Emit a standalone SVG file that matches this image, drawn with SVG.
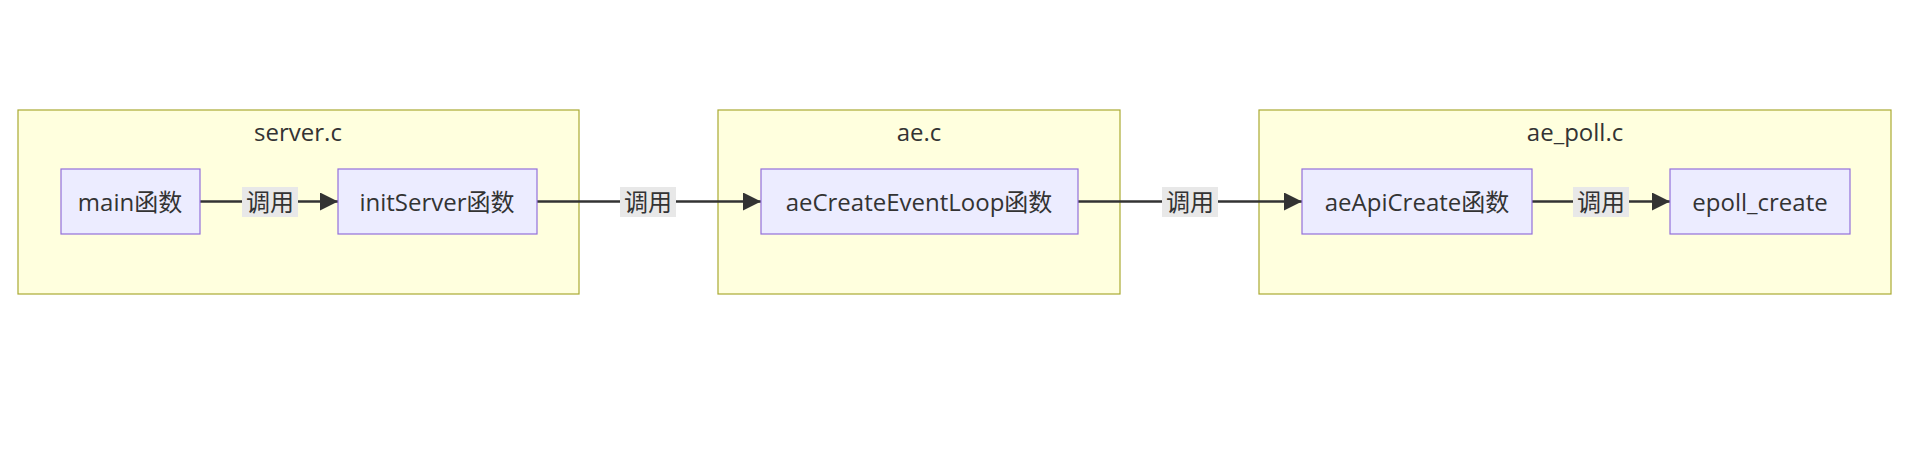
<svg xmlns="http://www.w3.org/2000/svg" width="1915" height="476" viewBox="0 0 1915 476">
<style>
.cl{fill:#ffffde;stroke:#aaaa33;stroke-width:1.2}
.nd{fill:#ececff;stroke:#9370db;stroke-width:1.2}
text{font-family:"Open Sans","Noto Sans CJK SC",sans-serif;font-size:24px;fill:#333;text-anchor:middle;dominant-baseline:central}
.e{stroke:#333;stroke-width:2.5;fill:none;marker-end:url(#a)}
.lb{fill:#e8e8e8}
</style>
<defs><marker id="a" viewBox="0 0 10 10" refX="10" refY="5" markerWidth="18" markerHeight="18" markerUnits="userSpaceOnUse" orient="auto"><path d="M0,0L10,5L0,10z" fill="#333"/></marker></defs>
<rect width="1915" height="476" fill="#fff"/>
<g id="server_c"><rect class="cl" x="18" y="110" width="561" height="184"/><text x="298" y="131">server.c</text></g>
<g id="ae_c"><rect class="cl" x="718" y="110" width="402" height="184"/><text x="919" y="131">ae.c</text></g>
<g id="ae_poll_c"><rect class="cl" x="1259" y="110" width="632" height="184"/><text x="1575" y="131">ae_poll.c</text></g>
<g id="edges">
<path class="e" d="M200,201.5H338"/><path class="e" d="M537,201.5H761"/><path class="e" d="M1078,201.5H1302"/><path class="e" d="M1532,201.5H1670"/>
<rect class="lb" x="242" y="187" width="56" height="30"/><text x="270" y="201">调用</text>
<rect class="lb" x="620" y="187" width="56" height="30"/><text x="648" y="201">调用</text>
<rect class="lb" x="1162" y="187" width="56" height="30"/><text x="1190" y="201">调用</text>
<rect class="lb" x="1573" y="187" width="56" height="30"/><text x="1601" y="201">调用</text>
</g>
<g id="main"><rect class="nd" x="61" y="169" width="139" height="65"/><text x="130" y="201">main函数</text></g>
<g id="initServer"><rect class="nd" x="338" y="169" width="199" height="65"/><text x="437" y="201">initServer函数</text></g>
<g id="aeCreateEventLoop"><rect class="nd" x="761" y="169" width="317" height="65"/><text x="919" y="201">aeCreateEventLoop函数</text></g>
<g id="aeApiCreate"><rect class="nd" x="1302" y="169" width="230" height="65"/><text x="1417" y="201">aeApiCreate函数</text></g>
<g id="epoll_create"><rect class="nd" x="1670" y="169" width="180" height="65"/><text x="1760" y="201">epoll_create</text></g>
</svg>
